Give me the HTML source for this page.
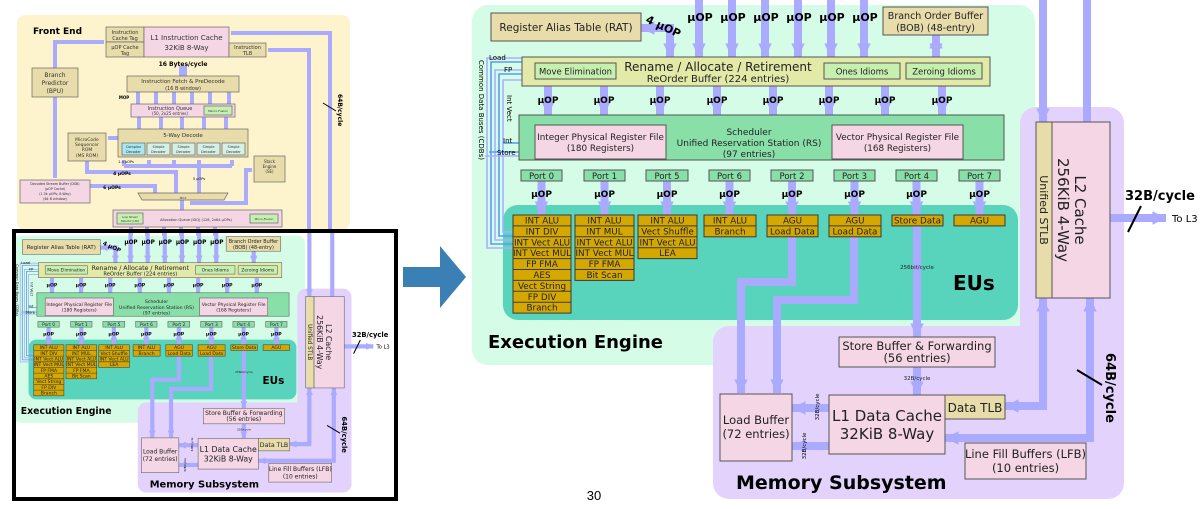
<!DOCTYPE html>
<html><head><meta charset="utf-8"><style>
html,body{margin:0;padding:0;background:#fff;}
svg{display:block;font-family:"DejaVu Sans","Liberation Sans",sans-serif;}
</style></head><body>
<svg width="1201" height="509" viewBox="0 0 1201 509" xmlns="http://www.w3.org/2000/svg">
<defs>
<marker id="a" viewBox="0 0 10 10" refX="10" refY="5" markerWidth="1.7" markerHeight="1.9" orient="auto-start-reverse"><path d="M0,0 L10,5 L0,10 z" fill="#aaaaff"/></marker>
<g id="R">
  <rect x="472" y="5" width="563" height="360" rx="16" fill="#d5fce6"/>
  <rect x="1020" y="107" width="104" height="300" rx="16" fill="#e3d3fc"/>
  <rect x="713" y="326" width="411" height="173" rx="16" fill="#e3d3fc"/>
  <rect x="503" y="205" width="515" height="115" rx="15" fill="#58d3bc"/>
  <g fill="none" stroke="#aaaaff" stroke-width="8" marker-end="url(#a)">
    <line x1="699" y1="0" x2="699" y2="57"/><line x1="732" y1="0" x2="732" y2="57"/><line x1="765" y1="0" x2="765" y2="57"/>
    <line x1="798" y1="0" x2="798" y2="57"/><line x1="831" y1="0" x2="831" y2="57"/><line x1="864" y1="0" x2="864" y2="57"/>
    <line x1="548" y1="86" x2="548" y2="115"/><line x1="604" y1="86" x2="604" y2="115"/><line x1="660" y1="86" x2="660" y2="115"/>
    <line x1="717" y1="86" x2="717" y2="115"/><line x1="773" y1="86" x2="773" y2="115"/><line x1="829" y1="86" x2="829" y2="115"/>
    <line x1="885" y1="86" x2="885" y2="115"/><line x1="942" y1="86" x2="942" y2="115"/>
    <line x1="541.5" y1="181" x2="541.5" y2="215"/><line x1="604.5" y1="181" x2="604.5" y2="215"/><line x1="667" y1="181" x2="667" y2="215"/>
    <line x1="729.5" y1="181" x2="729.5" y2="215"/><line x1="792" y1="181" x2="792" y2="215"/><line x1="854.5" y1="181" x2="854.5" y2="215"/>
    <line x1="916.5" y1="181" x2="916.5" y2="215"/><line x1="979.5" y1="181" x2="979.5" y2="215"/>
    <line x1="1043" y1="0" x2="1043" y2="122"/>
    <path d="M792,237 L792,282 L741,282 L741,393"/>
    <path d="M854,237 L854,300 L777,300 L777,393"/>
    <line x1="917" y1="226" x2="917" y2="337"/>
    <line x1="917" y1="367" x2="917" y2="395"/>
    <line x1="829" y1="408" x2="792" y2="408"/>
    <line x1="829" y1="446" x2="792" y2="446"/>
    <line x1="1110" y1="218" x2="1166" y2="218"/>
    <path d="M670,57 L670,28 L641,28" marker-start="url(#a)"/>
    <line x1="936" y1="35" x2="936" y2="57" marker-start="url(#a)"/>
    <path d="M1005,406 L1043,406 L1043,298" marker-start="url(#a)"/>
    <path d="M945,438 L1090,438 L1090,298" marker-start="url(#a)"/>
  </g>
  <line x1="1087" y1="0" x2="1087" y2="122" stroke="#aaaaff" stroke-width="8"/>
  <g fill="none" stroke-width="1.6">
    <path d="M522,58 L487,58 L487,248 L513,248" stroke="#aab0ff"/>
    <path d="M522,62 L491,62 L491,244 L513,244" stroke="#5c9cf0"/>
    <path d="M522,70 L495,70 L495,240 L513,240" stroke="#aab0ff"/>
    <path d="M522,74 L499,74 L499,236 L513,236" stroke="#5c9cf0"/>
    <path d="M522,80 L503,80 L503,232 L513,232" stroke="#aab0ff"/>
    <path d="M519,143 L503,143" stroke="#5c9cf0"/>
    <path d="M519,152 L489,152" stroke="#5c9cf0"/>
    <path d="M519,156 L485,156" stroke="#aab0ff"/>
  </g>
  <g font-size="7" fill="#000">
    <text x="489" y="60">Load</text><text x="504" y="72">FP</text>
    <text x="503" y="143">Int</text><text x="497" y="155">Store</text>
    <text transform="translate(507,95) rotate(90)">Int Vect</text>
    <text transform="translate(479,60) rotate(90)">Common Data Buses (CDBs)</text>
  </g>
  <g stroke="#555" stroke-width="1">
    <rect x="491" y="13" width="150" height="28" fill="#e8dcaa"/>
    <rect x="883" y="7" width="105" height="28" fill="#e8dcaa"/>
    <rect x="522" y="57" width="468" height="29" fill="#e3eaa8"/>
    <rect x="535" y="63" width="81" height="16" fill="#c7f0b0"/>
    <rect x="824" y="63" width="76" height="16" fill="#c7f0b0"/>
    <rect x="906" y="63" width="76" height="16" fill="#c7f0b0"/>
    <rect x="519" y="115" width="485" height="45" fill="#88e0a8"/>
    <rect x="535" y="125" width="131" height="34" fill="#f4d6e4"/>
    <rect x="832" y="125" width="131" height="34" fill="#f4d6e4"/>
    <g fill="#88e0a8">
      <rect x="521" y="170" width="41" height="11"/><rect x="584" y="170" width="41" height="11"/>
      <rect x="646" y="170" width="42" height="11"/><rect x="709" y="170" width="41" height="11"/>
      <rect x="771" y="170" width="42" height="11"/><rect x="834" y="170" width="41" height="11"/>
      <rect x="896" y="170" width="41" height="11"/><rect x="959" y="170" width="41" height="11"/>
    </g>
    <rect x="839" y="337" width="156" height="30" fill="#f4d6e4"/>
    <rect x="829" y="395" width="116" height="59" fill="#f4d6e4"/>
    <rect x="945" y="395" width="60" height="24" fill="#e8dcaa"/>
    <rect x="720" y="394" width="72" height="67" fill="#f4d6e4"/>
    <rect x="965" y="443" width="121" height="36" fill="#f4d6e4"/>
    <rect x="1036" y="122" width="16" height="176" fill="#e8dcaa"/>
    <rect x="1052" y="122" width="58" height="176" fill="#f4d6e4"/>
  </g>
  <g fill="#d4a800" stroke="#3a3a3a" stroke-width="1">
    <rect x="513" y="215" width="58" height="98.1"/><rect x="575" y="215" width="59" height="65.4"/>
    <rect x="638" y="215" width="59" height="43.6"/><rect x="704" y="215" width="52" height="21.8"/>
    <rect x="767" y="215" width="51" height="21.8"/><rect x="829" y="215" width="52" height="21.8"/>
    <rect x="892" y="215" width="51" height="10.9"/><rect x="954" y="215" width="51" height="10.9"/>
  </g>
  <g stroke="#3a3a3a" stroke-width="1">
    <path d="M513,225.9h58M513,236.8h58M513,247.7h58M513,258.6h58M513,269.5h58M513,280.4h58M513,291.3h58M513,302.2h58"/>
    <path d="M575,225.9h59M575,236.8h59M575,247.7h59M575,258.6h59M575,269.5h59"/>
    <path d="M638,225.9h59M638,236.8h59M638,247.7h59"/>
    <path d="M704,225.9h52M767,225.9h51M829,225.9h52"/>
  </g>
  <g font-size="8.8" text-anchor="middle" fill="#222">
    <text x="542" y="223.5">INT ALU</text><text x="542" y="234.4">INT DIV</text><text x="542" y="245.3">INT Vect ALU</text>
    <text x="542" y="256.2">INT Vect MUL</text><text x="542" y="267.1">FP FMA</text><text x="542" y="278">AES</text>
    <text x="542" y="288.9">Vect String</text><text x="542" y="299.8">FP DIV</text><text x="542" y="310.7">Branch</text>
    <text x="604.5" y="223.5">INT ALU</text><text x="604.5" y="234.4">INT MUL</text><text x="604.5" y="245.3">INT Vect ALU</text>
    <text x="604.5" y="256.2">INT Vect MUL</text><text x="604.5" y="267.1">FP FMA</text><text x="604.5" y="278">Bit Scan</text>
    <text x="667.5" y="223.5">INT ALU</text><text x="667.5" y="234.4">Vect Shuffle</text><text x="667.5" y="245.3">INT Vect ALU</text><text x="667.5" y="256.2">LEA</text>
    <text x="730" y="223.5">INT ALU</text><text x="730" y="234.4">Branch</text>
    <text x="792.5" y="223.5">AGU</text><text x="792.5" y="234.4">Load Data</text>
    <text x="855" y="223.5">AGU</text><text x="855" y="234.4">Load Data</text>
    <text x="917.5" y="223.5">Store Data</text><text x="979.5" y="223.5">AGU</text>
  </g>
  <g text-anchor="middle" fill="#222">
    <text x="566" y="31" font-size="10.5">Register Alias Table (RAT)</text>
    <text x="935.5" y="19" font-size="9.5">Branch Order Buffer</text><text x="935.5" y="31" font-size="9.5">(BOB) (48-entry)</text>
    <text x="718" y="71" font-size="12">Rename / Allocate / Retirement</text>
    <text x="718" y="82" font-size="10">ReOrder Buffer (224 entries)</text>
    <text x="575.5" y="74.5" font-size="8.5">Move Elimination</text>
    <text x="862" y="74.5" font-size="8.5">Ones Idioms</text>
    <text x="944" y="74.5" font-size="8.5">Zeroing Idioms</text>
    <text x="749" y="135" font-size="9">Scheduler</text>
    <text x="749" y="146" font-size="9">Unified Reservation Station (RS)</text>
    <text x="749" y="157" font-size="9">(97 entries)</text>
    <text x="600.5" y="140" font-size="8.8">Integer Physical Register File</text><text x="600.5" y="151" font-size="8.8">(180 Registers)</text>
    <text x="897.5" y="140" font-size="8.8">Vector Physical Register File</text><text x="897.5" y="151" font-size="8.8">(168 Registers)</text>
    <g font-size="8.5">
      <text x="541.5" y="179">Port 0</text><text x="604.5" y="179">Port 1</text><text x="667" y="179">Port 5</text>
      <text x="729.5" y="179">Port 6</text><text x="792" y="179">Port 2</text><text x="854.5" y="179">Port 3</text>
      <text x="916.5" y="179">Port 4</text><text x="979.5" y="179">Port 7</text>
    </g>
    <g font-size="9" font-weight="bold" fill="#000">
      <text x="548" y="103">μOP</text><text x="604" y="103">μOP</text><text x="660" y="103">μOP</text><text x="717" y="103">μOP</text>
      <text x="773" y="103">μOP</text><text x="829" y="103">μOP</text><text x="885" y="103">μOP</text><text x="942" y="103">μOP</text>
      <text x="541.5" y="197">μOP</text><text x="604.5" y="197">μOP</text><text x="667" y="197">μOP</text><text x="729.5" y="197">μOP</text>
      <text x="792" y="197">μOP</text><text x="854.5" y="197">μOP</text><text x="916.5" y="197">μOP</text><text x="979.5" y="197">μOP</text>
    </g>
    <g font-size="11" font-weight="bold" fill="#000">
      <text x="700" y="21">μOP</text><text x="733" y="21">μOP</text><text x="766" y="21">μOP</text>
      <text x="799" y="21">μOP</text><text x="832" y="21">μOP</text><text x="865" y="21">μOP</text>
    </g>
    <text x="917" y="269" font-size="5.5">256bit/cycle</text>
    <text x="917" y="380" font-size="5.5">32B/cycle</text>
    <text x="917" y="350" font-size="11.5">Store Buffer &amp; Forwarding</text><text x="917" y="362" font-size="11.5">(56 entries)</text>
    <text x="887" y="421" font-size="15">L1 Data Cache</text><text x="887" y="439" font-size="15">32KiB 8-Way</text>
    <text x="975" y="412" font-size="12">Data TLB</text>
    <text x="756" y="424" font-size="11.5">Load Buffer</text><text x="756" y="438" font-size="11.5">(72 entries)</text>
    <text x="1025.5" y="458" font-size="11.5">Line Fill Buffers (LFB)</text><text x="1025.5" y="472" font-size="11.5">(10 entries)</text>
  </g>
  <text transform="translate(1040,210) rotate(90)" text-anchor="middle" font-size="11" fill="#222">Unified STLB</text>
  <text transform="translate(1075,210) rotate(90)" text-anchor="middle" font-size="15" fill="#222">L2 Cache</text>
  <text transform="translate(1058,210) rotate(90)" text-anchor="middle" font-size="15" fill="#222">256KiB 4-Way</text>
  <text transform="translate(819,407) rotate(-90)" text-anchor="middle" font-size="5.5">32B/cycle</text>
  <text transform="translate(806,446) rotate(-90)" text-anchor="middle" font-size="5.5">32B/cycle</text>
  <text transform="translate(645,22) rotate(25)" font-size="11" font-weight="bold">4 μOP</text>
  <text x="953" y="290" font-size="20" font-weight="bold">EUs</text>
  <text x="488" y="348" font-size="18" font-weight="bold">Execution Engine</text>
  <text x="736" y="489" font-size="19" font-weight="bold">Memory Subsystem</text>
  <text transform="translate(1106,353) rotate(90)" font-size="13" font-weight="bold">64B/cycle</text>
  <line x1="1077" y1="370" x2="1102" y2="385" stroke="#000" stroke-width="2"/>
  <text x="1125" y="200" font-size="13" font-weight="bold">32B/cycle</text>
  <line x1="1128" y1="232" x2="1141" y2="206" stroke="#000" stroke-width="2"/>
  <text x="1172" y="222" font-size="10">To L3</text>
</g>
</defs>

<rect x="17" y="15" width="333" height="215" rx="8" fill="#fdf3cc"/>
<g fill="none" stroke="#aaaaff" stroke-width="4">
  <path d="M330,233 L330,33 L231,33"/>
  <path d="M309,233 L309,50 L268,50"/>
  <path d="M55,68 L55,42 L104,42"/>
  <path d="M55,97 L55,178"/>
  <line x1="183" y1="66" x2="183" y2="76" stroke-width="8"/>
  <path d="M87,161 L87,172 L176,172 L176,193"/>
  <path d="M90,186 L155,186 L155,193"/>
  <path d="M199,193 L199,166 M124,166 L232,166 M124,160 L124,166 M149,160 L149,166 M174,160 L174,166 M199,160 L199,166 M232,160 L232,166"/>
  <path d="M182,200 L182,210"/>
  <path d="M252,170 L246,170 L246,203 L190,203"/>
  <path d="M118,138 L108,138"/>
  <path d="M138,92 L138,104 M156,92 L156,104 M174,92 L174,104 M192,92 L192,104 M210,92 L210,104 M229,92 L229,104"/>
  <path d="M139,117 L139,129 M161,117 L161,129 M182,117 L182,129 M204,117 L204,129 M226,117 L226,129"/>
  <path d="M131,227 L131,236 M147,227 L147,236 M164,227 L164,236 M181,227 L181,236 M198,227 L198,236 M215,227 L215,236"/>
</g>
<g stroke="#666" stroke-width="0.7">
  <rect x="106" y="27" width="38" height="15" fill="#e8dcaa"/><rect x="106" y="42" width="38" height="15" fill="#e8dcaa"/>
  <rect x="144" y="27" width="85" height="30" fill="#f4d6e4"/>
  <rect x="229" y="43" width="37" height="14" fill="#e8dcaa"/>
  <rect x="127" y="76" width="112" height="16" fill="#e8dcaa"/>
  <rect x="131" y="104" width="104" height="13" fill="#f4d6e4"/>
  <rect x="204" y="106" width="28" height="9" fill="#c7f0b0"/>
  <rect x="118" y="129" width="130" height="28" fill="#e8dcaa"/>
  <rect x="122" y="143" width="23" height="12" fill="#a8e6f0"/>
  <rect x="147" y="143" width="23" height="12" fill="#d5f0e6"/><rect x="172" y="143" width="23" height="12" fill="#d5f0e6"/>
  <rect x="197" y="143" width="23" height="12" fill="#d5f0e6"/><rect x="222" y="143" width="23" height="12" fill="#d5f0e6"/>
  <rect x="68" y="133" width="38" height="28" fill="#e8dcaa"/>
  <rect x="32" y="68" width="46" height="29" fill="#e8dcaa"/>
  <rect x="20" y="180" width="70" height="23" fill="#f4d6e4"/>
  <rect x="254" y="156" width="31" height="26" fill="#e8dcaa"/>
  <polygon points="138,193 228,193 224,200 142,200" fill="#e8dcaa"/>
  <rect x="113" y="210" width="169" height="17" fill="#f4d6e4"/>
  <rect x="117" y="213" width="26" height="11" fill="#c7f0b0"/><rect x="250" y="214" width="28" height="9" fill="#c7f0b0"/>
</g>
<g text-anchor="middle" fill="#333">
  <text x="125" y="34" font-size="5">Instruction</text><text x="125" y="40" font-size="5">Cache Tag</text>
  <text x="125" y="49" font-size="5">μOP Cache</text><text x="125" y="55" font-size="5">Tag</text>
  <text x="186.5" y="40" font-size="7">L1 Instruction Cache</text><text x="186.5" y="50" font-size="7">32KiB 8-Way</text>
  <text x="247.5" y="49" font-size="5">Instruction</text><text x="247.5" y="55" font-size="5">TLB</text>
  <text x="183" y="66" font-size="6" font-weight="bold" fill="#000">16 Bytes/cycle</text>
  <text x="183" y="83" font-size="5.5">Instruction Fetch &amp; PreDecode</text><text x="183" y="90" font-size="5">(16 B window)</text>
  <text x="170" y="110" font-size="5">Instruction Queue</text><text x="170" y="115" font-size="4">(50, 2x25 entries)</text>
  <text x="218" y="112" font-size="3">Macro-Fusion</text>
  <text x="183" y="137" font-size="5.5">5-Way Decode</text>
  <text x="133.5" y="148" font-size="3.5">Complex</text><text x="133.5" y="153" font-size="3.5">Decoder</text>
  <text x="158.5" y="148" font-size="3.5">Simple</text><text x="158.5" y="153" font-size="3.5">Decoder</text>
  <text x="183.5" y="148" font-size="3.5">Simple</text><text x="183.5" y="153" font-size="3.5">Decoder</text>
  <text x="208.5" y="148" font-size="3.5">Simple</text><text x="208.5" y="153" font-size="3.5">Decoder</text>
  <text x="233.5" y="148" font-size="3.5">Simple</text><text x="233.5" y="153" font-size="3.5">Decoder</text>
  <text x="87" y="141" font-size="4.5">MicroCode</text><text x="87" y="146" font-size="4.5">Sequencer</text>
  <text x="87" y="151" font-size="4.5">ROM</text><text x="87" y="157" font-size="4.5">(MS ROM)</text>
  <text x="55" y="77" font-size="6">Branch</text><text x="55" y="85" font-size="6">Predictor</text><text x="55" y="93" font-size="6">(BPU)</text>
  <text x="55" y="185" font-size="3.3">Decoded Stream Buffer (DSB)</text><text x="55" y="190" font-size="3.3">(μOP Cache)</text>
  <text x="55" y="195" font-size="3.3">(1.5k μOPs; 8-Way)</text><text x="55" y="200" font-size="3.3">(64 B window)</text>
  <text x="269.5" y="163" font-size="4">Stack</text><text x="269.5" y="168" font-size="4">Engine</text><text x="269.5" y="173" font-size="4">(SE)</text>
  <text x="183" y="199" font-size="3">MUX</text>
  <text x="196" y="221" font-size="3.5">Allocation Queue (IDQ) (128, 2x64 μOPs)</text>
  <text x="130" y="218" font-size="2.5">Loop Stream</text><text x="130" y="222" font-size="2.5">Detector (LSD)</text>
  <text x="264" y="220" font-size="3">Micro-Fusion</text>
  <text x="124" y="99" font-size="4" font-weight="bold" fill="#000">MOP</text>
  <text x="126" y="163" font-size="3.5" fill="#000">1-4 μOPs</text>
  <text x="122" y="175" font-size="4.5" font-weight="bold" fill="#000">4 μOPs</text>
  <text x="112" y="189" font-size="4.5" font-weight="bold" fill="#000">6 μOPs</text>
  <text x="199" y="180" font-size="3.5" fill="#000">5 μOPs</text>
</g>
<text x="33" y="34" font-size="9" font-weight="bold">Front End</text>
<text transform="translate(338,94) rotate(90)" font-size="6" font-weight="bold">64B/cycle</text>
<line x1="323" y1="103" x2="336" y2="111" stroke="#000" stroke-width="1"/>

<g transform="translate(-233,233) scale(0.52)"><use href="#R"/></g>
<rect x="14" y="231" width="382" height="268" fill="none" stroke="#000" stroke-width="4"/>

<polygon points="403,267 440,267 440,246 466,277 440,308 440,287 403,287" fill="#3a80b5"/>

<use href="#R"/>

<text x="594" y="500" font-size="13" text-anchor="middle" font-family="Liberation Sans, sans-serif">30</text>
</svg>
</body></html>
